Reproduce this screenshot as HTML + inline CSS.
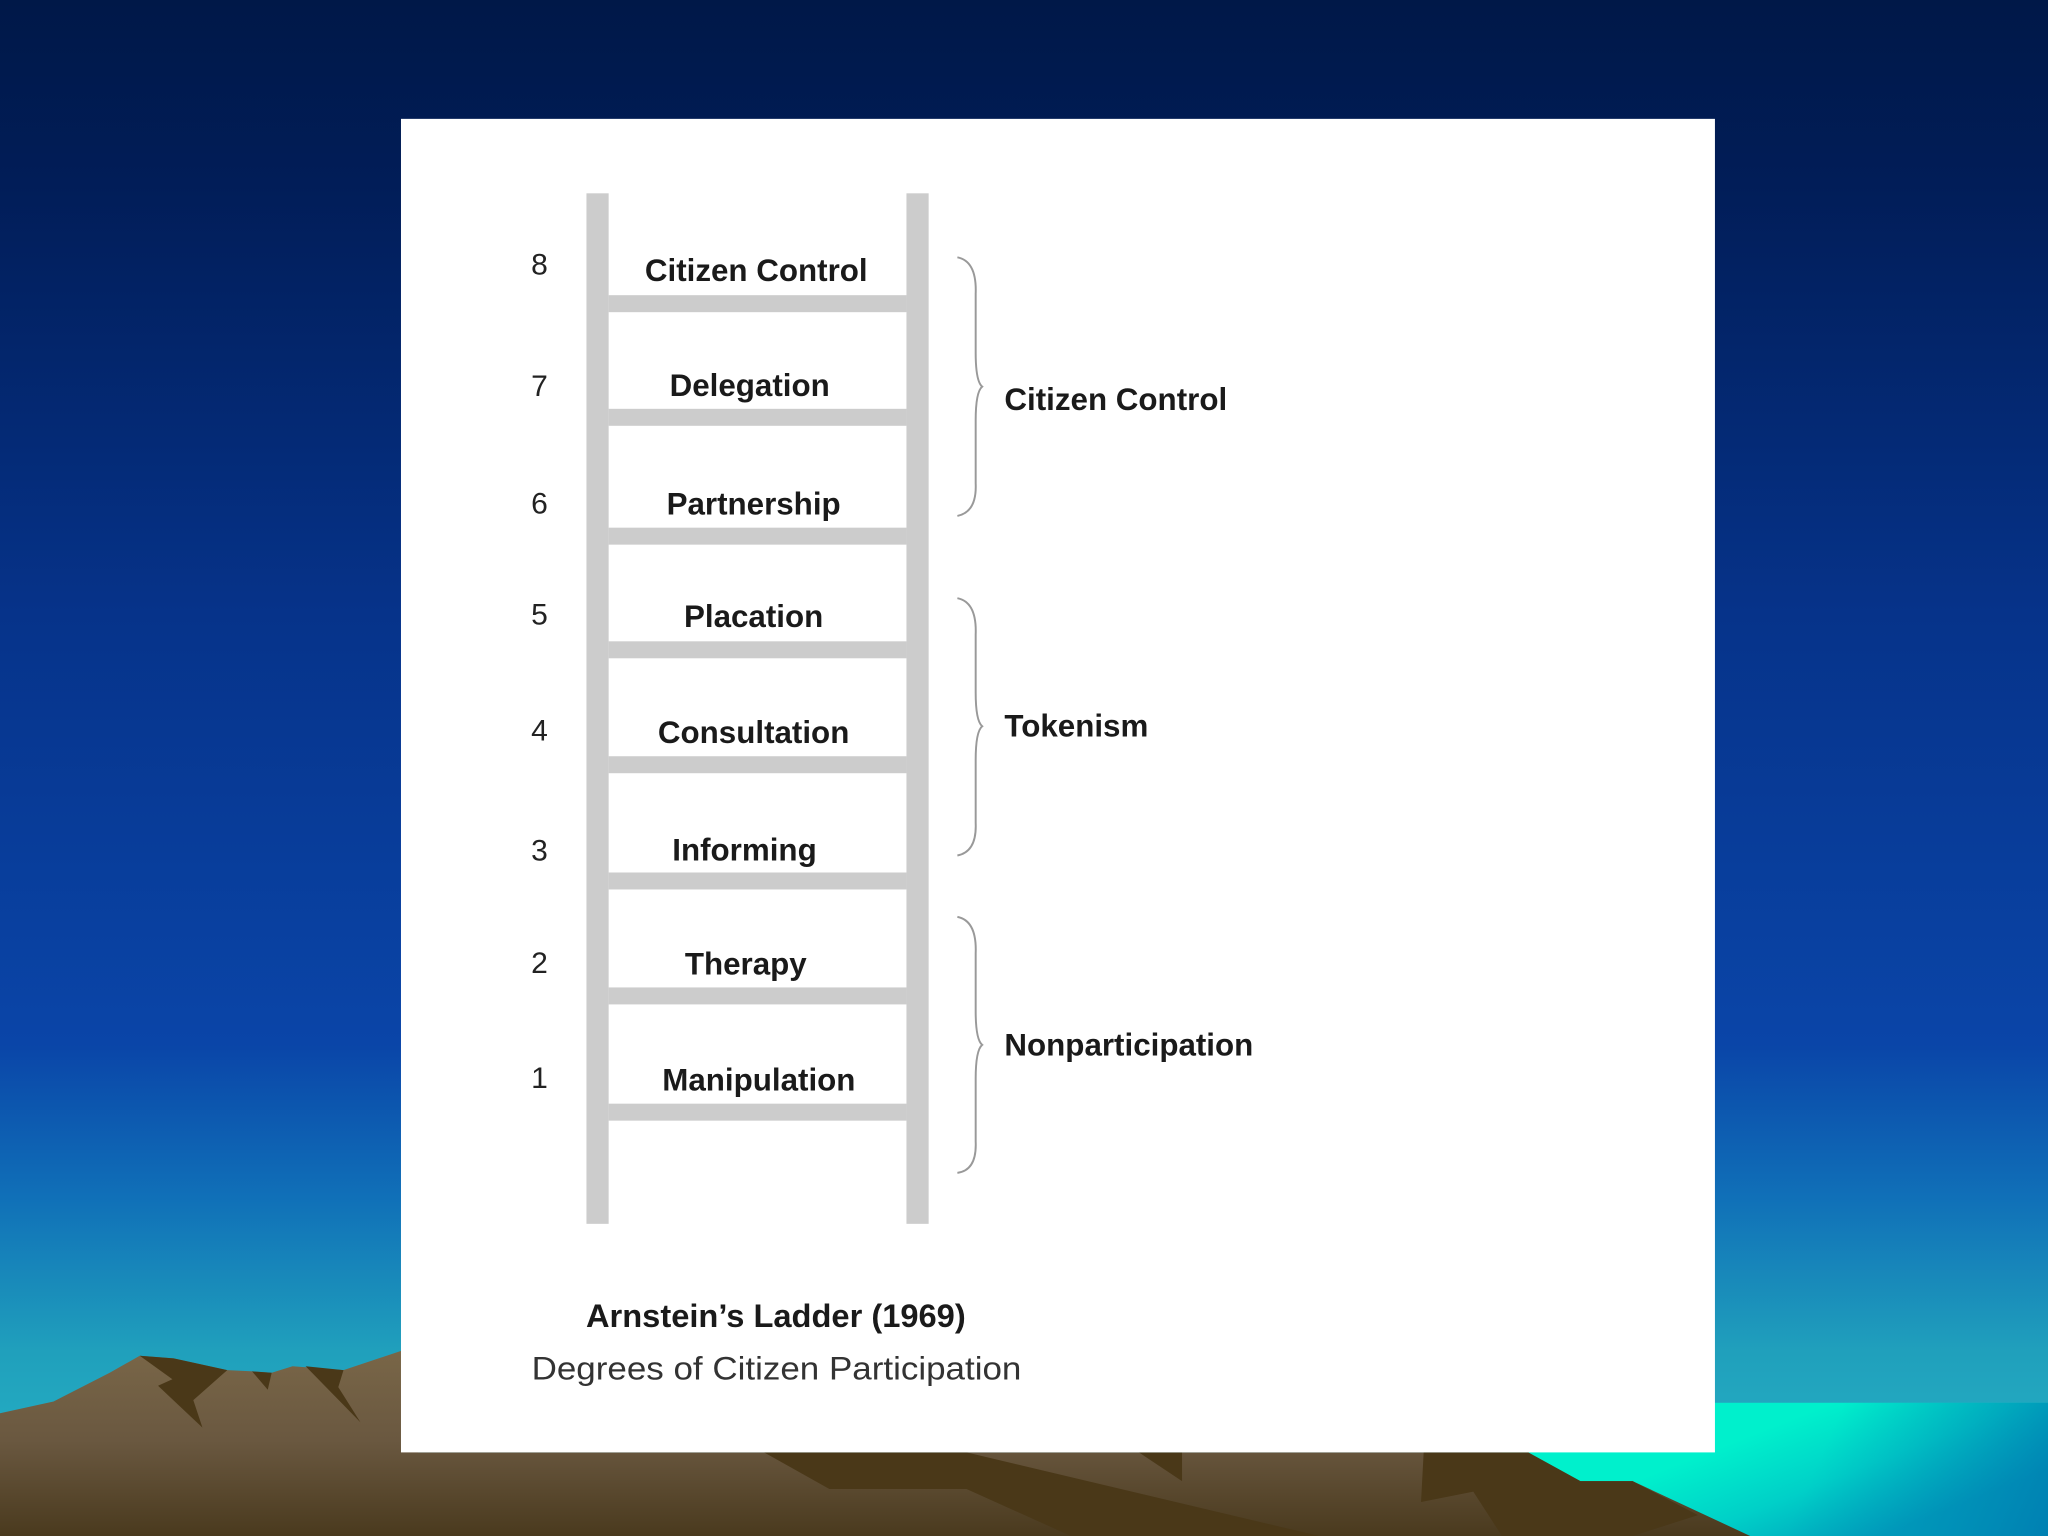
<!DOCTYPE html>
<html><head><meta charset="utf-8"><style>
html,body{margin:0;padding:0;width:2048px;height:1536px;overflow:hidden;}
svg{display:block}
</style></head><body>
<svg width="2048" height="1536" viewBox="0 0 1568 1176" preserveAspectRatio="none" xmlns="http://www.w3.org/2000/svg">
<defs>
<linearGradient id="sky" x1="0" y1="0" x2="0" y2="1">
<stop offset="0" stop-color="#001848"/>
<stop offset="0.12" stop-color="#011d58"/>
<stop offset="0.4" stop-color="#06338a"/>
<stop offset="0.68" stop-color="#0a45a8"/>
<stop offset="0.78" stop-color="#1070b8"/>
<stop offset="0.88" stop-color="#20a0bc"/>
<stop offset="1" stop-color="#28b8c8"/>
</linearGradient>
<linearGradient id="mt" gradientUnits="userSpaceOnUse" x1="0" y1="1030" x2="0" y2="1176">
<stop offset="0" stop-color="#7a6748"/>
<stop offset="0.5" stop-color="#6a5840"/>
<stop offset="1" stop-color="#4a3a1e"/>
</linearGradient>
<linearGradient id="sea" gradientUnits="userSpaceOnUse" x1="1400" y1="1075" x2="1440" y2="1176">
<stop offset="0" stop-color="#00f0cc"/>
<stop offset="0.5" stop-color="#00d0c8"/>
<stop offset="1" stop-color="#00a0bc"/>
</linearGradient>
<linearGradient id="corner" gradientUnits="userSpaceOnUse" x1="1400" y1="1100" x2="1568" y2="1176">
<stop offset="0" stop-color="#0090b8" stop-opacity="0"/>
<stop offset="1" stop-color="#0078b0" stop-opacity="0.8"/>
</linearGradient>
</defs>
<rect width="1568" height="1176" fill="url(#sky)"/>
<rect x="1150" y="1074" width="418" height="102" fill="url(#sea)"/>
<rect x="1150" y="1074" width="418" height="102" fill="url(#corner)"/>
<path d="M0,1082 L41,1073 L84,1051 L107,1038 L133,1040 L174,1049 L194,1050 L208,1051 L224,1046 L263,1049 L281,1043 L320,1030 L320,1112 L1170,1112 L1210,1134 L1250,1134 L1340,1176 L0,1176 Z" fill="url(#mt)"/>
<path d="M107,1038 L133,1040 L174,1049 L148,1072 L155,1093 L121,1061 L132,1056 Z" fill="#4a3818"/>
<path d="M193,1050 L208,1051 L205,1064 Z" fill="#4a3818"/>
<path d="M234,1046 L263,1049 L259,1062 L276,1089 Z" fill="#4a3818"/>
<path d="M585,1112 L740,1112 L1010,1176 L820,1176 L740,1140 L635,1140 Z" fill="#4a3818"/>
<path d="M872,1112 L905,1112 L905,1134 Z" fill="#4a3818"/>
<path d="M1090,1112 L1170,1112 L1210,1134 L1250,1134 L1300,1160 L1250,1176 L1150,1176 L1128,1142 L1088,1150 Z" fill="#4a3818"/>
<rect x="307" y="91" width="1006" height="1021" fill="#fff"/>
<g fill="#cccccc">
<rect x="449" y="148" width="17" height="789"/>
<rect x="694" y="148" width="17" height="789"/>
<rect x="466" y="226" width="228" height="13"/>
<rect x="466" y="313" width="228" height="13"/>
<rect x="466" y="404" width="228" height="13"/>
<rect x="466" y="491" width="228" height="13"/>
<rect x="466" y="579" width="228" height="13"/>
<rect x="466" y="668" width="228" height="13"/>
<rect x="466" y="756" width="228" height="13"/>
<rect x="466" y="845" width="228" height="13"/>
</g>
<g font-family="Liberation Sans, sans-serif" font-size="23" fill="#222" text-anchor="middle">
<text x="413" y="210">8</text><text x="413" y="303">7</text><text x="413" y="393">6</text><text x="413" y="478">5</text>
<text x="413" y="567">4</text><text x="413" y="659">3</text><text x="413" y="745">2</text><text x="413" y="833">1</text>
</g>
<g font-family="Liberation Sans, sans-serif" font-size="24" font-weight="bold" fill="#1a1a1a" text-anchor="middle">
<text x="579" y="215">Citizen Control</text>
<text x="574" y="303">Delegation</text>
<text x="577" y="394">Partnership</text>
<text x="577" y="480">Placation</text>
<text x="577" y="569">Consultation</text>
<text x="570" y="659">Informing</text>
<text x="571" y="746">Therapy</text>
<text x="581" y="835">Manipulation</text>
</g>
<g fill="none" stroke="#999" stroke-width="1.5">
<path d="M733,197 Q748,200 747,225 L747,270 Q747,292 752,296 Q747,300 747,322 L747,370 Q748,392 733,395"/>
<path d="M733,458 Q748,461 747,486 L747,530 Q747,552 752,556 Q747,560 747,582 L747,630 Q748,652 733,655"/>
<path d="M733,702 Q748,705 747,730 L747,774 Q747,796 752,800 Q747,804 747,826 L747,874 Q748,896 733,898"/>
</g>
<g font-family="Liberation Sans, sans-serif" font-size="24" font-weight="bold" fill="#1a1a1a">
<text x="769" y="314">Citizen Control</text>
<text x="769" y="564">Tokenism</text>
<text x="769" y="808">Nonparticipation</text>
</g>
<text x="594" y="1016" font-family="Liberation Sans, sans-serif" font-size="25" font-weight="bold" fill="#1a1a1a" text-anchor="middle">Arnstein’s Ladder (1969)</text>
<text x="407" y="1056" font-family="Liberation Sans, sans-serif" font-size="25" fill="#333" textLength="375" lengthAdjust="spacingAndGlyphs">Degrees of Citizen Participation</text>
</svg>
</body></html>
